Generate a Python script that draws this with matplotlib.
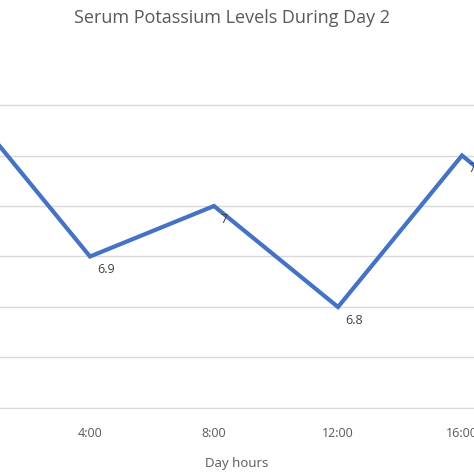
import matplotlib
matplotlib.use("Agg")
import matplotlib.pyplot as plt

hours = [0, 4, 8, 12, 16, 20]
hour_labels = ["0:00", "4:00", "8:00", "12:00", "16:00", "20:00"]
potassium = [7.2, 6.9, 7.0, 6.8, 7.1, 6.9]

plt.rcParams['font.family'] = ['Open Sans', 'DejaVu Sans']
fig = plt.figure(figsize=(4.74, 4.74), dpi=100)
ax = fig.add_axes([0, 66 / 474, 1, 353.5 / 474])

ax.plot(hours, potassium, color="#4472C4", linewidth=3, solid_joinstyle="miter")
for h, v in zip(hours, potassium):
    ax.annotate(f"{v:g}", (h, v), xytext=(5, -5), textcoords="offset points",
                ha="left", va="top", fontsize=9, color="#404040", annotation_clip=True)

ax.set_yticks([6.6, 6.7, 6.8, 6.9, 7.0, 7.1, 7.2])
ax.set_xticks(hours)
ax.set_xticklabels(hour_labels)
# visible window is a crop of the wider chart
ax.set_xlim(4 - 90 / 31, 4 + 384 / 31)
ax.set_ylim(6.6, 7.3)
ax.tick_params(axis="y", left=False, labelleft=False)
ax.tick_params(axis="x", length=0, labelsize=9, labelcolor="#595959", pad=14)
ax.grid(axis="y", color="#d9d9d9", linewidth=1)
ax.set_axisbelow(True)
for s in ["top", "left", "right"]:
    ax.spines[s].set_visible(False)
ax.spines["bottom"].set_color("#d9d9d9")

fig.text(0.5, 1 - 463 / 474, "Day hours", ha="center", va="center", fontsize=9.5, color="#595959")
fig.text(0.49, 1 - 18 / 474, "Serum Potassium Levels During Day 2", ha="center", va="center",
         fontsize=13, color="#595959")

fig.savefig("out.png", dpi=100)
